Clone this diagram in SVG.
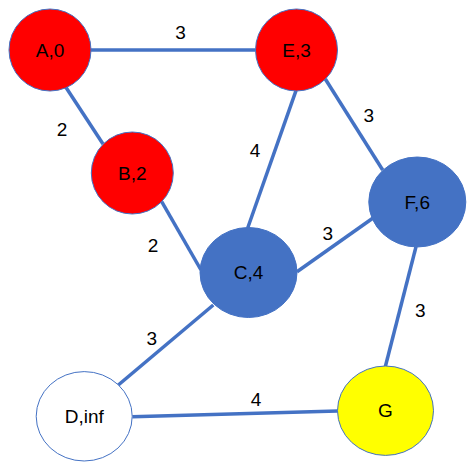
<svg xmlns="http://www.w3.org/2000/svg" width="476" height="469" viewBox="0 0 476 469">
<style>
.edge{stroke:#4472C4;stroke-width:3.5;fill:none}
.node{stroke:#4472C4;stroke-width:1}
.red{fill:#FF0000}
.blue{fill:#4472C4}
.white{fill:#FFFFFF}
.yellow{fill:#FFFF00}
text{font-family:"Liberation Sans",Arial,sans-serif;font-size:19px;fill:#000;text-anchor:middle;dominant-baseline:central}
</style>
<rect width="476" height="469" fill="#fff"/>
<g id="connectors">
<line class="edge" x1="91" y1="50" x2="255" y2="50"/>
<line class="edge" x1="65.7" y1="87" x2="103" y2="144"/>
<line class="edge" x1="161.7" y1="201.7" x2="201" y2="270"/>
<line class="edge" x1="296" y1="90.7" x2="247.7" y2="228"/>
<line class="edge" x1="325.3" y1="79" x2="382.7" y2="170"/>
<line class="edge" x1="297" y1="271.7" x2="372.7" y2="218.3"/>
<line class="edge" x1="213.3" y1="305" x2="118.3" y2="385"/>
<line class="edge" x1="132.3" y1="416.7" x2="337.7" y2="411"/>
<line class="edge" x1="416" y1="246.7" x2="385.3" y2="366.7"/>
<text x="180.5" y="32">3</text>
<text x="62" y="129">2</text>
<text x="255" y="150">4</text>
<text x="368.7" y="115">3</text>
<text x="327.7" y="233">3</text>
<text x="153" y="245.7">2</text>
<text x="151.7" y="338.3">3</text>
<text x="420.3" y="310.7">3</text>
<text x="256" y="399">4</text>
</g>
<g id="A"><ellipse class="node red" cx="50" cy="50" rx="41" ry="41"/><text x="50" y="50">A,0</text></g>
<g id="E"><ellipse class="node red" cx="296.5" cy="50" rx="41" ry="41"/><text x="296.5" y="50">E,3</text></g>
<g id="B"><ellipse class="node red" cx="132.3" cy="173" rx="41" ry="41"/><text x="132.3" y="173">B,2</text></g>
<g id="F"><ellipse class="node blue" cx="417.3" cy="202" rx="48.5" ry="45"/><text x="417.3" y="202">F,6</text></g>
<g id="C"><ellipse class="node blue" cx="248.5" cy="272.5" rx="48.5" ry="45"/><text x="248.5" y="272.5">C,4</text></g>
<g id="D"><ellipse class="node white" cx="84.2" cy="416.3" rx="48" ry="44.7"/><text x="84.2" y="416.3">D,inf</text></g>
<g id="G"><ellipse class="node yellow" cx="385.5" cy="410.7" rx="48" ry="44.7"/><text x="385.5" y="410.7">G</text></g>
</svg>
